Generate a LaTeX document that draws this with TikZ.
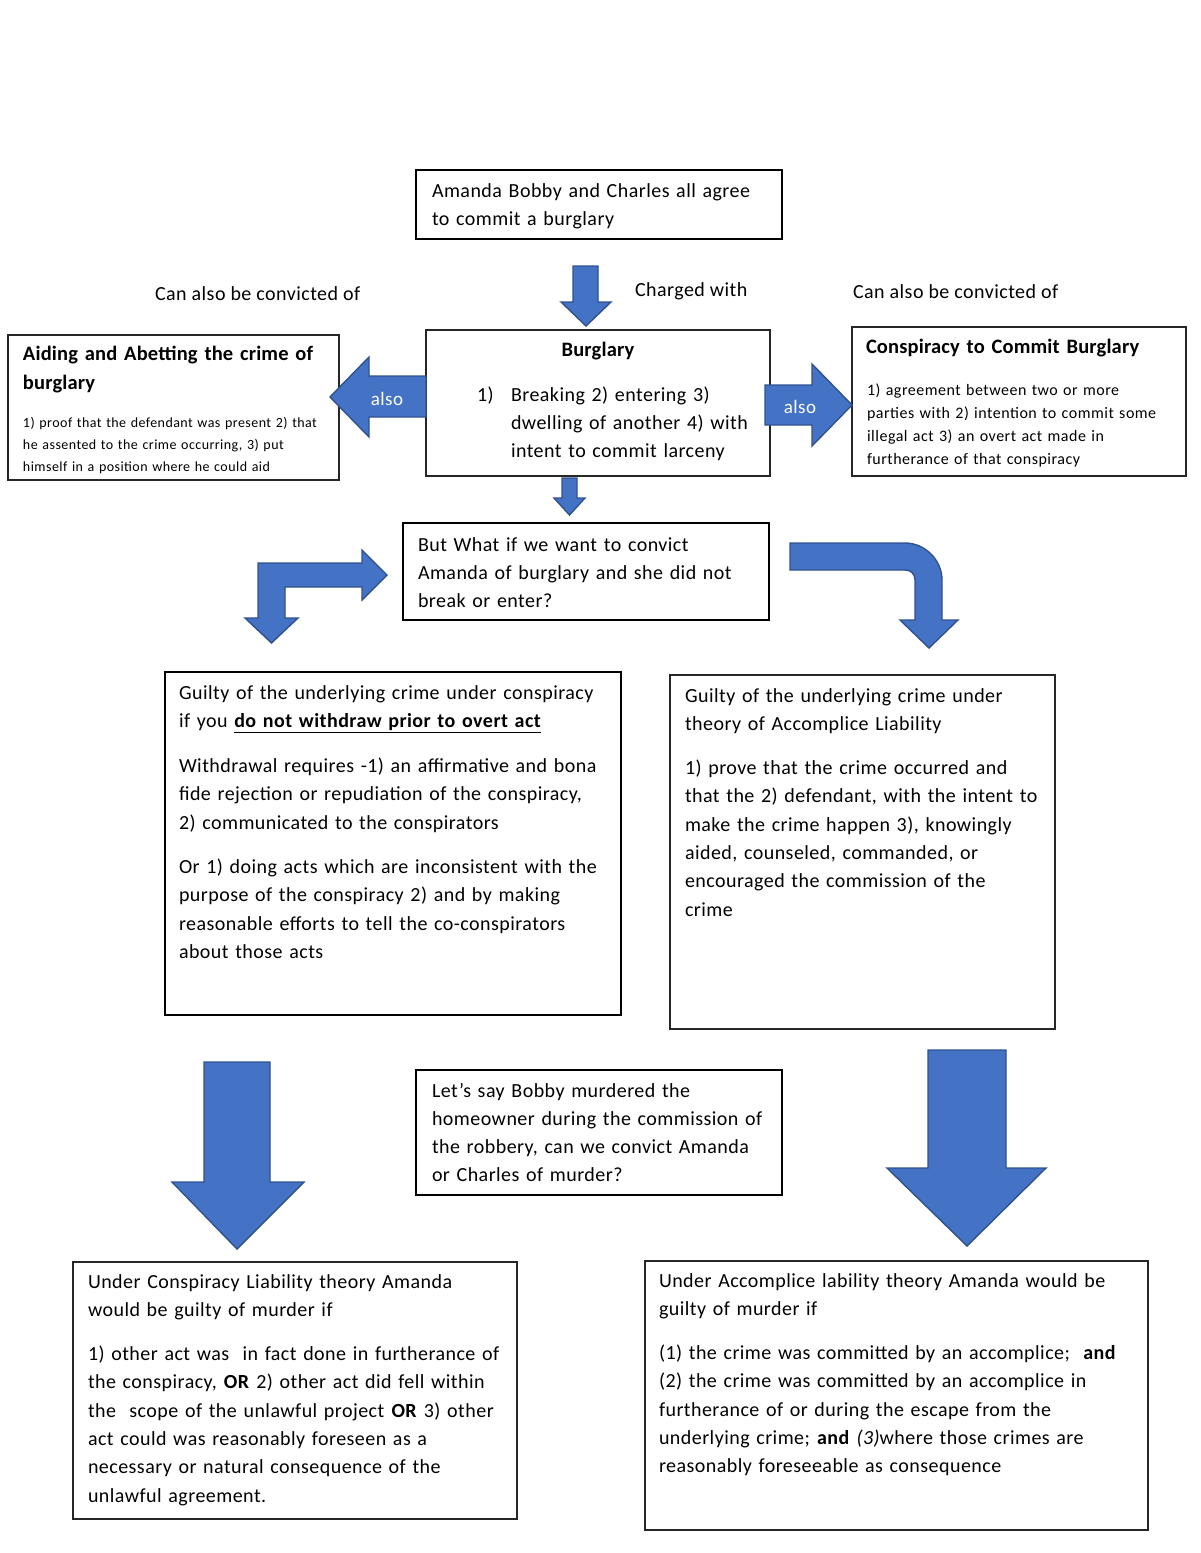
\documentclass[tikz,border=0pt]{standalone}
\usepackage{fontspec}
\setmainfont{Carlito}[LetterSpace=2.3]
\newfontfamily\smallfam{Carlito}[LetterSpace=3.2]
\newfontfamily\titlefam{Carlito}[LetterSpace=0.8]
\definecolor{arrowblue}{HTML}{4472C4}
\definecolor{arrowedge}{HTML}{2F528F}
\tikzset{
  thickbox/.style={draw=black, line width=2.6pt, anchor=north west, inner sep=0pt, outer sep=0pt},
  thinbox/.style={draw=black!85, line width=1.3pt, anchor=north west, inner sep=0pt, outer sep=0pt},
  txt/.style={anchor=base west, inner sep=0pt, outer sep=0pt, align=left, font=\fontsize{20}{28.3}\selectfont},
  smalltxt/.style={anchor=base west, inner sep=0pt, outer sep=0pt, align=left, font=\smallfam\fontsize{14}{22}\selectfont},
  midtxt/.style={anchor=base west, inner sep=0pt, outer sep=0pt, align=left, font=\smallfam\fontsize{16}{23}\selectfont},
  titletxt/.style={anchor=base west, inner sep=0pt, outer sep=0pt, align=left, font=\titlefam\fontsize{20.5}{29}\selectfont\bfseries},
  blockarrow/.style={fill=arrowblue, draw=arrowedge, line width=1.4pt, line join=miter},
  alsotxt/.style={text=white, inner sep=0pt, font=\fontsize{19}{22}\selectfont}
}
\begin{document}
\begin{tikzpicture}[x=1pt, y=-1pt]
\useasboundingbox (0,0) rectangle (1200,1553);

% ---------- boxes ----------
\node[thickbox, minimum width=366pt, minimum height=69pt] (agree) at (416,170) {};
\node[thinbox, minimum width=344pt, minimum height=146pt] (burg) at (426,330) {};
\node[thinbox, minimum width=331pt, minimum height=145pt] (aid) at (8,335) {};
\node[thinbox, minimum width=334pt, minimum height=149pt] (consp) at (852,327) {};
\node[thickbox, minimum width=366pt, minimum height=97pt] (what) at (403,523) {};
\node[thickbox, minimum width=456pt, minimum height=343pt] (wd) at (165,672) {};
\node[thinbox, minimum width=385pt, minimum height=354pt] (acc) at (670,675) {};
\node[thickbox, minimum width=366pt, minimum height=125pt] (lets) at (416,1070) {};
\node[thinbox, minimum width=444pt, minimum height=257pt] (bl) at (73,1262) {};
\node[thinbox, minimum width=503pt, minimum height=269pt] (br) at (645,1261) {};

% ---------- block arrows ----------
% top down arrow
\draw[blockarrow] (573,266) -- (598,266) -- (598,302) -- (611,302) -- (586,326) -- (561,302) -- (573,302) -- cycle;
% small down arrow
\draw[blockarrow] (562,478) -- (577,478) -- (577,498) -- (585,498) -- (569.5,515) -- (554,498) -- (562,498) -- cycle;
% left "also" arrow
\draw[blockarrow] (330,397) -- (369,357) -- (369,376) -- (426,376) -- (426,417) -- (369,417) -- (369,437) -- cycle;
% right "also" arrow
\draw[blockarrow] (765,385) -- (812,385) -- (812,364) -- (852,405) -- (812,446) -- (812,425) -- (765,425) -- cycle;
% bent left arrow
\draw[blockarrow] (258,618) -- (258,563) -- (362,563) -- (362,550) -- (387,575) -- (362,600) -- (362,587) -- (285,587) -- (285,618) -- (298,618) -- (271.5,643) -- (245,618) -- cycle;
% curved right arrow
\draw[blockarrow] (790,543) -- (905,543) .. controls (925,543) and (942,560) .. (942,580) -- (942,620) -- (958,620) -- (929,648) -- (900,620) -- (915,620) -- (915,580) .. controls (915,574) and (911,570) .. (905,570) -- (790,570) -- cycle;
% big left arrow
\draw[blockarrow] (204,1062) -- (270,1062) -- (270,1182) -- (304,1182) -- (237,1249) -- (172,1182) -- (204,1182) -- cycle;
% big right arrow
\draw[blockarrow] (928,1050) -- (1006,1050) -- (1006,1168) -- (1046,1168) -- (967,1246) -- (887,1168) -- (928,1168) -- cycle;

\node[alsotxt] (also1) at (387,399) {also};
\node[alsotxt] (also2) at (800,407) {also};

% ---------- free labels ----------
\node[txt] (charged) at (635,296) {Charged with};
\node[txt] (canL) at (155,300) {Can also be convicted of};
\node[txt] (canR) at (853,298) {Can also be convicted of};

% ---------- texts ----------
\node[txt, text width=360pt] (agreeT) at (432,197) {Amanda Bobby and Charles all agree\\to commit a burglary};

\node[titletxt, anchor=base] (burgTitle) at (598,356) {Burglary};
\node[txt] (burgNum) at (477,401) {1)};
\node[txt, text width=300pt] (burgT) at (511,401) {Breaking 2) entering 3)\\dwelling of another 4) with\\intent to commit larceny};

\node[titletxt, text width=330pt] (aidTitle) at (23,360) {Aiding and Abetting the crime of\\burglary};
\node[smalltxt, text width=330pt] (aidT) at (23,427) {1) proof that the defendant was present 2) that\\he assented to the crime occurring, 3) put\\himself in a position where he could aid};

\node[titletxt, text width=330pt] (conspTitle) at (866,353) {Conspiracy to Commit Burglary};
\node[midtxt, text width=330pt] (conspT) at (867,395) {1) agreement between two or more\\parties with 2) intention to commit some\\illegal act 3) an overt act made in\\furtherance of that conspiracy};

\node[txt, text width=360pt] (whatT) at (418,551) {But What if we want to convict\\Amanda of burglary and she did not\\break or enter?};

\node[txt, text width=500pt] (wdT) at (179,699) {Guilty of the underlying crime under conspiracy\\if you \underline{\textbf{do not withdraw prior to overt act}}\\[17pt]Withdrawal requires -1) an affirmative and bona\\fide rejection or repudiation of the conspiracy,\\2) communicated to the conspirators\\[16pt]Or 1) doing acts which are inconsistent with the\\purpose of the conspiracy 2) and by making\\reasonable efforts to tell the co-conspirators\\about those acts};

\node[txt, text width=420pt] (accT) at (685,702) {Guilty of the underlying crime under\\theory of Accomplice Liability\\[16pt]1) prove that the crime occurred and\\that the 2) defendant, with the intent to\\make the crime happen 3), knowingly\\aided, counseled, commanded, or\\encouraged the commission of the\\crime};

\node[txt, text width=400pt] (letsT) at (432,1097) {Let’s say Bobby murdered the\\homeowner during the commission of\\the robbery, can we convict Amanda\\or Charles of murder?};

\node[txt, text width=480pt] (blT) at (88,1288) {Under Conspiracy Liability theory Amanda\\would be guilty of murder if\\[16pt]1) other act was \ in fact done in furtherance of\\the conspiracy, \textbf{OR} 2) other act did fell within\\the \ scope of the unlawful project \textbf{OR} 3) other\\act could was reasonably foreseen as a\\necessary or natural consequence of the\\unlawful agreement.};

\node[txt, text width=520pt] (brT) at (659,1287) {Under Accomplice lability theory Amanda would be\\guilty of murder if\\[16pt](1) the crime was committed by an accomplice; \ \textbf{and}\\(2) the crime was committed by an accomplice in\\furtherance of or during the escape from the\\underlying crime; \textbf{and} {\itshape(3)}where those crimes are\\reasonably foreseeable as consequence};
\end{tikzpicture}
\end{document}
